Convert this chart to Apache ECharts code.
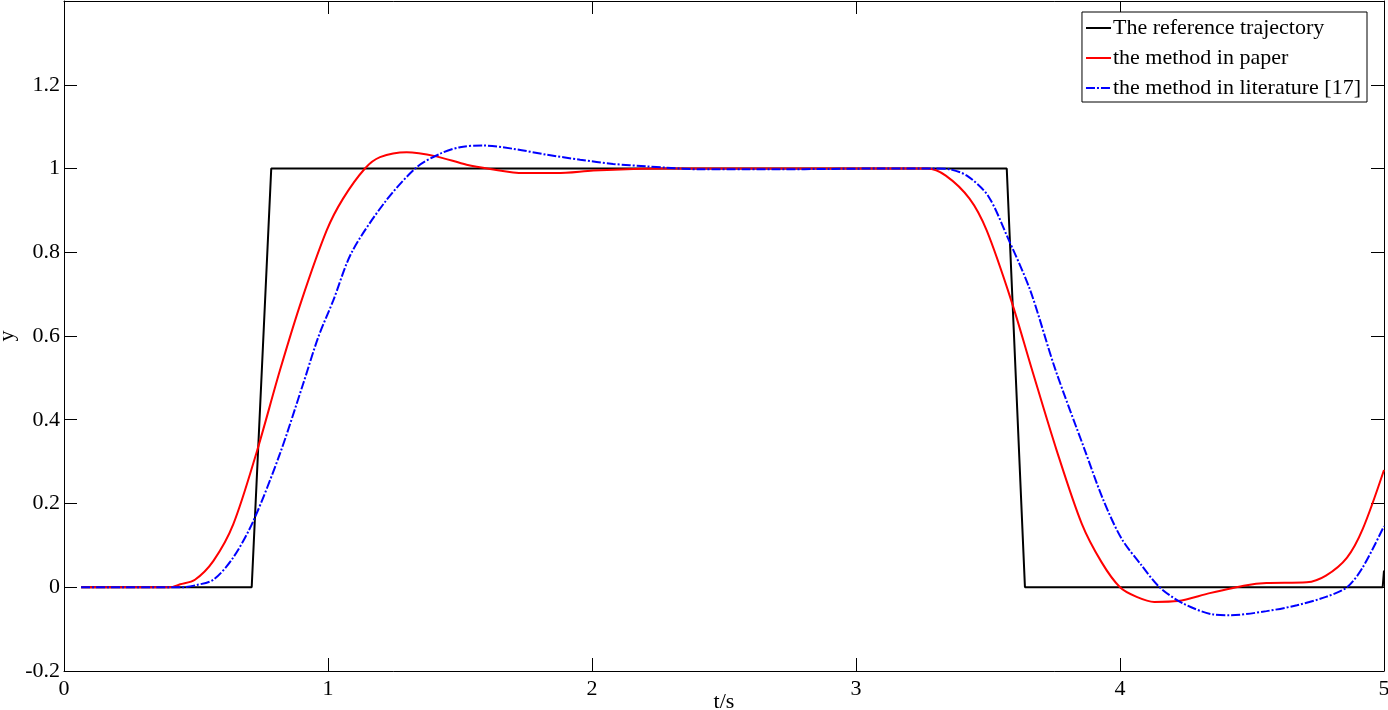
<!DOCTYPE html>
<html>
<head>
<meta charset="utf-8">
<script src="https://cdn.jsdelivr.net/npm/echarts@6/dist/echarts.min.js"></script>
<style>
  html, body { margin: 0; padding: 0; background: #fff; }
  #chart { width: 1388px; height: 710px; }
</style>
</head>
<body>
<div id="chart"></div>
<script>
// values: [t, y]
const refT = [0.065, 0.711, 0.785, 3.571, 3.64, 4.995, 5.0]
const refY = [0, 0, 1, 1, 0, 0, 0.04]

const paperT = [0.065, 0.4, 0.44, 0.496, 0.566, 0.641, 0.73, 0.818, 0.9, 0.995, 1.057, 1.14, 1.197, 1.298, 1.41, 1.525, 1.614, 1.74, 1.866, 2.005, 2.157, 2.3, 2.6, 2.9, 3.27, 3.34, 3.43, 3.495, 3.59, 3.665, 3.76, 3.855, 3.93, 4.0, 4.063, 4.13, 4.22, 4.34, 4.48, 4.555, 4.707, 4.78, 4.86, 4.92, 5.0]
const paperY = [0, 0, 0.007, 0.018, 0.063, 0.15, 0.323, 0.518, 0.685, 0.852, 0.928, 1.0, 1.027, 1.039, 1.029, 1.009, 0.999, 0.989, 0.989, 0.995, 0.999, 1.0, 1.0, 1.0, 1.0, 0.983, 0.928, 0.852, 0.681, 0.523, 0.327, 0.152, 0.06, 0.0, -0.023, -0.035, -0.033, -0.014, 0.005, 0.01, 0.012, 0.028, 0.071, 0.14, 0.28]

const litT = [0.065, 0.45, 0.5, 0.566, 0.641, 0.717, 0.818, 0.906, 0.963, 1.02, 1.09, 1.216, 1.336, 1.424, 1.5, 1.588, 1.702, 1.828, 1.955, 2.08, 2.207, 2.28, 2.41, 2.586, 2.71, 2.9, 3.1, 3.3, 3.356, 3.42, 3.5, 3.576, 3.66, 3.754, 3.867, 3.937, 4.006, 4.082, 4.15, 4.24, 4.353, 4.417, 4.555, 4.67, 4.78, 4.86, 4.92, 5.0]
const litY = [0, 0, 0.005, 0.018, 0.071, 0.158, 0.319, 0.486, 0.597, 0.685, 0.8, 0.92, 1.003, 1.035, 1.051, 1.055, 1.047, 1.033, 1.021, 1.011, 1.005, 1.002, 0.998, 0.998, 0.998, 0.999, 1.0, 1.0, 0.998, 0.983, 0.935, 0.833, 0.709, 0.522, 0.327, 0.208, 0.116, 0.052, 0.0, -0.039, -0.065, -0.067, -0.057, -0.043, -0.023, 0.0, 0.048, 0.146]

const names = ['The reference trajectory', 'the method in paper', 'the method in literature [17]']

const FONT = '"Liberation Serif", "Times New Roman", serif'
const FS = 22

const zip = (xs, ys) => xs.map((x, i) => [x, ys[i]])

const chart = echarts.init(document.getElementById('chart'))

const axisCommon = {
  axisLine: { show: true, onZero: false, lineStyle: { color: '#000', width: 1 } },
  axisTick: { show: true, inside: true, length: 13, lineStyle: { color: '#000' } },
  splitLine: { show: false },
}

chart.setOption({
  animation: false,
  backgroundColor: '#fff',
  textStyle: { fontFamily: FONT },
  grid: { left: 64, right: 4, top: 1, bottom: 39, containLabel: false, outerBoundsMode: 'none' },
  legend: {
    orient: 'vertical', right: 21, top: 12,
    data: names,
    backgroundColor: '#fff',
    borderColor: '#000', borderWidth: 1, borderRadius: 0,
    padding: [4, 6, 2, 3],
    itemWidth: 25, itemHeight: 14, itemGap: 6,
    itemStyle: { opacity: 0 },
    lineStyle: { width: 2 },
    textStyle: { fontFamily: FONT, fontSize: FS, color: '#000', padding: [0, 0, 0, -3], lineHeight: 24 },
  },
  xAxis: [
    Object.assign({
      type: 'value', min: 0, max: 5, interval: 1, position: 'bottom',
      name: 't/s', nameLocation: 'middle', nameGap: 20, nameMoveOverlap: false,
      nameTextStyle: { fontFamily: FONT, fontSize: FS, color: '#000' },
      axisLabel: { fontFamily: FONT, fontSize: FS, color: '#000', margin: 7 },
    }, axisCommon),
    Object.assign({
      type: 'value', min: 0, max: 5, interval: 1, position: 'top',
      axisLabel: { show: false },
    }, axisCommon),
  ],
  yAxis: [
    Object.assign({
      type: 'value', min: -0.2, max: 1.4, interval: 0.2, position: 'left',
      name: 'y', nameLocation: 'middle', nameGap: 46, nameMoveOverlap: false,
      nameTextStyle: { fontFamily: FONT, fontSize: FS, color: '#000' },
      axisLabel: {
        fontFamily: FONT, fontSize: FS, color: '#000', margin: 4,
        formatter: (v) => (v > 1.3 ? '' : String(Math.round(v * 10) / 10)),
      },
    }, axisCommon),
    Object.assign({
      type: 'value', min: -0.2, max: 1.4, interval: 0.2, position: 'right',
      axisLabel: { show: false },
    }, axisCommon),
  ],
  series: [
    {
      name: names[0], type: 'line', data: zip(refT, refY),
      symbol: 'none', color: '#000',
      lineStyle: { color: '#000', width: 2 },
    },
    {
      name: names[1], type: 'line', data: zip(paperT, paperY),
      symbol: 'none', smooth: 0.3, color: '#ff0000',
      lineStyle: { color: '#ff0000', width: 2 },
    },
    {
      name: names[2], type: 'line', data: zip(litT, litY),
      symbol: 'none', smooth: 0.3, color: '#0000ff',
      lineStyle: { color: '#0000ff', width: 2, type: [9, 2, 2, 2] },
    },
  ],
})
</script>
</body>
</html>
